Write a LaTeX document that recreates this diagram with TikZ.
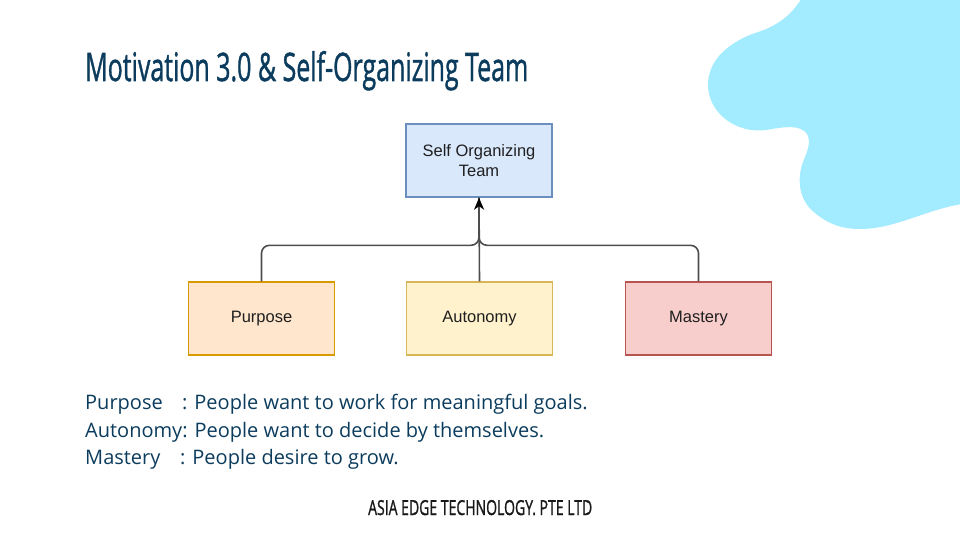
\documentclass[tikz,border=0pt]{standalone}
\usepackage{fontspec}
\setmainfont{Open Sans}
\newfontfamily\boxfont{Liberation Sans}
\newfontfamily\bodyfont{Open Sans}
\newfontfamily\titlefont[FakeBold=1.3]{Open Sans}
\usetikzlibrary{arrows.meta}
\definecolor{titleblue}{HTML}{0C3C5D}
\definecolor{blob}{HTML}{A3EBFF}
\definecolor{conncol}{HTML}{4D4D4D}
\definecolor{bluefill}{HTML}{DAE8FC}\definecolor{bluedraw}{HTML}{6C8EBF}
\definecolor{orangefill}{HTML}{FFE6CC}\definecolor{orangedraw}{HTML}{D79B00}
\definecolor{yellowfill}{HTML}{FFF2CC}\definecolor{yellowdraw}{HTML}{D6B656}
\definecolor{redfill}{HTML}{F8CECC}\definecolor{reddraw}{HTML}{B85450}
\tikzset{
  box/.style={rectangle, minimum width=146pt, minimum height=73pt, line width=1.4pt,
    font=\boxfont\fontsize{16.5}{20}\selectfont, text=black!88, align=center, inner sep=0pt},
  conn/.style={draw=conncol, line width=1.6pt, rounded corners=8pt},
  bodytext/.style={anchor=base west, inner sep=0pt, text=titleblue,
    font=\bodyfont\fontsize{20}{27}\selectfont}
}
\begin{document}
\begin{tikzpicture}[x=1pt,y=-1pt]
\useasboundingbox (0,0) rectangle (960,540);
% blob
\fill[blob] (802,-2) .. controls (788,20) and (772,28) .. (752,34)
  .. controls (725,45) and (708,62) .. (708,85)
  .. controls (708,112) and (735,134) .. (766,130)
  .. controls (784,127) and (800,124) .. (807,134)
  .. controls (812,143) and (806,154) .. (803,162)
  .. controls (797,178) and (798,200) .. (815,213)
  .. controls (828,224) and (842,229) .. (860,229)
  .. controls (895,229) and (925,210) .. (962,204)
  -- (962,-2) -- cycle;
% title
\node[anchor=base west, inner sep=0pt, text=titleblue, font=\titlefont] (title) at (85,81)
  {\resizebox{443pt}{30pt}{Motivation 3.0 \& Self-Organizing Team}};
% boxes
\node[box, fill=bluefill, draw=bluedraw] (team) at (479,160.5) {Self Organizing\\Team};
\node[box, fill=orangefill, draw=orangedraw] (purpose) at (261.5,318.5) {\strut Purpose};
\node[box, fill=yellowfill, draw=yellowdraw] (autonomy) at (479.5,318.5) {\strut Autonomy};
\node[box, fill=redfill, draw=reddraw] (mastery) at (698.5,318.5) {\strut Mastery};
% connectors
\draw[conn] (purpose.north) -- ++(0,-36) -| (team.south);
\draw[conn] (mastery.north) -- ++(0,-36) -| (team.south);
\draw[conn, -{Stealth[length=12pt,width=10pt,inset=3.5pt,fill=black,color=black]}] (autonomy.north) -- (team.south);
% body
\node[bodytext] (l1) at (85,409) {\makebox[97pt][l]{Purpose}: People want to work for meaningful goals.};
\node[bodytext] (l2) at (85,437) {Autonomy: People want to decide by themselves.};
\node[bodytext] (l3) at (85,464) {\makebox[95pt][l]{Mastery}: People desire to grow.};
% footer
\node[anchor=base west, inner sep=0pt, text=black!90, font=\titlefont] (footer) at (368,515)
  {\resizebox{224pt}{15pt}{ASIA EDGE TECHNOLOGY. PTE LTD}};
\end{tikzpicture}
\end{document}
